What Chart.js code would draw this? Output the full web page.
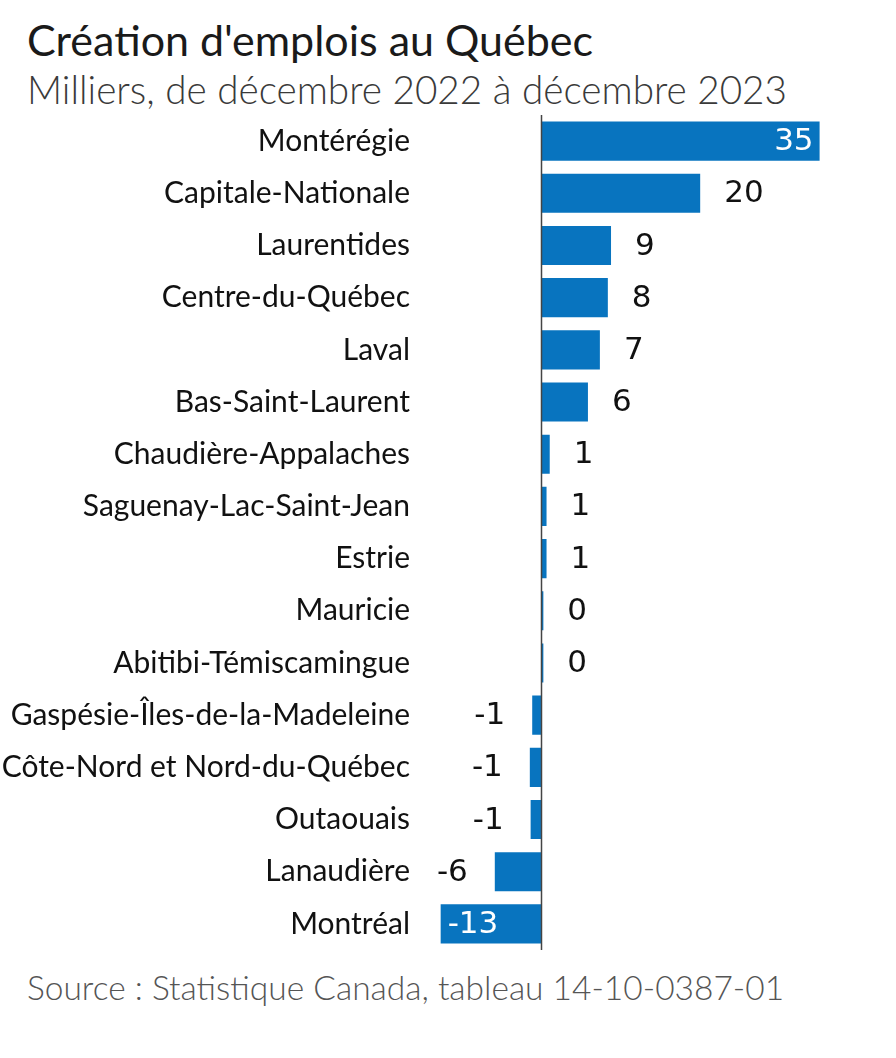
<!DOCTYPE html>
<html lang="fr">
<head>
<meta charset="UTF-8">
<title>Création d'emplois au Québec</title>
<script src="https://cdn.jsdelivr.net/npm/chart.js"></script>
<style>
  body { margin: 0; background: #fff; }
  #page { position: relative; width: 896px; height: 1058px; overflow: hidden; }
  .txt { position: absolute; left: 27px; margin: 0; white-space: nowrap; font-family: Lato, sans-serif; line-height: normal; }
  #titre { top: 14px; font-size: 43px; font-weight: 400; color: #1a1a1a; }
  #soustitre { top: 66px; font-size: 38.7px; font-weight: 300; color: #3a3a3a; }
  #source { top: 967px; font-size: 33.5px; font-weight: 300; color: #555; }
  #wrap { position: absolute; left: 0; top: 115px; width: 896px; height: 835px; }
</style>
</head>
<body>
<div id="page">
  <h1 class="txt" id="titre">Création d'emplois au Québec</h1>
  <p class="txt" id="soustitre">Milliers, de décembre 2022 à décembre 2023</p>
  <div id="wrap"><canvas id="chart"></canvas></div>
  <p class="txt" id="source">Source : Statistique Canada, tableau 14-10-0387-01</p>
</div>
<script>
const regions = [
  'Montérégie', 'Capitale-Nationale', 'Laurentides', 'Centre-du-Québec', 'Laval',
  'Bas-Saint-Laurent', 'Chaudière-Appalaches', 'Saguenay-Lac-Saint-Jean', 'Estrie',
  'Mauricie', 'Abitibi-Témiscamingue', 'Gaspésie-Îles-de-la-Madeleine',
  'Côte-Nord et Nord-du-Québec', 'Outaouais', 'Lanaudière', 'Montréal'
];
// milliers d'emplois
const emplois = [35, 20, 8.8, 8.4, 7.4, 5.9, 1.1, 0.7, 0.7, 0.3, 0.3, -1.1, -1.4, -1.3, -5.8, -12.6];

const bleu = '#0874bf';

// étiquettes de valeur (pas de plugin datalabels disponible)
const etiquettes = {
  id: 'etiquettes',
  afterDatasetsDraw(chart) {
    const ctx = chart.ctx;
    const meta = chart.getDatasetMeta(0);
    ctx.save();
    ctx.font = '31px "DejaVu Sans", sans-serif';
    ctx.textBaseline = 'middle';
    meta.data.forEach((bar, i) => {
      const v = emplois[i];
      const txt = String(Math.round(v));
      const dedans = v > 30 || v < -10;
      if (dedans) {
        ctx.fillStyle = '#fff';
        if (v > 0) { ctx.textAlign = 'right'; ctx.fillText(txt, bar.x - 6, bar.y + 1); }
        else { ctx.textAlign = 'left'; ctx.fillText(txt, bar.x + 7, bar.y + 1); }
      } else {
        ctx.fillStyle = '#111';
        if (v >= 0) { ctx.textAlign = 'left'; ctx.fillText(txt, bar.x + 24, bar.y + 1); }
        else { ctx.textAlign = 'right'; ctx.fillText(txt, bar.x - 27, bar.y + 1); }
      }
    });
    ctx.restore();
  }
};

// ligne du zéro
const ligneZero = {
  id: 'ligneZero',
  afterDatasetsDraw(chart) {
    const { ctx, chartArea, scales } = chart;
    const x0 = Math.round(scales.x.getPixelForValue(0)) + 0.5;
    ctx.save();
    ctx.strokeStyle = '#444';
    ctx.lineWidth = 1.5;
    ctx.beginPath();
    ctx.moveTo(x0, chartArea.top);
    ctx.lineTo(x0, chartArea.bottom);
    ctx.stroke();
    ctx.restore();
  }
};

new Chart(document.getElementById('chart'), {
  type: 'bar',
  data: {
    labels: regions,
    datasets: [{
      data: emplois,
      backgroundColor: bleu,
      borderWidth: 0,
      barPercentage: 0.75,
      categoryPercentage: 1.0
    }]
  },
  options: {
    indexAxis: 'y',
    responsive: true,
    maintainAspectRatio: false,
    animation: false,
    layout: { padding: { left: 0, right: 36.6, top: 0, bottom: 0 } },
    plugins: {
      legend: { display: false },
      tooltip: { enabled: false }
    },
    scales: {
      x: {
        display: false,
        min: -13.5,
        max: 40
      },
      y: {
        afterFit(scale) {
          scale.width = 433.5;
          scale.paddingTop = 0;
          scale.paddingBottom = 0;
        },
        grid: { display: false, drawTicks: false },
        border: { display: false },
        ticks: {
          padding: 23.5,
          color: '#111',
          font: { family: 'Lato', size: 30 }
        }
      }
    }
  },
  plugins: [etiquettes, ligneZero]
});
</script>
</body>
</html>
